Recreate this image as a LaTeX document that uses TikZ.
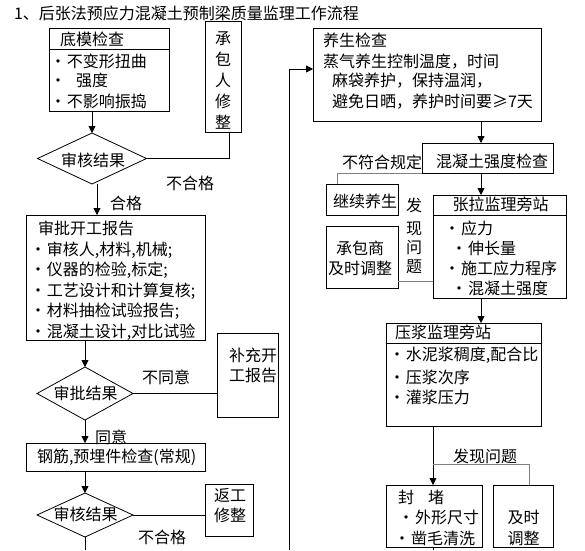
\documentclass[tikz,border=0pt]{standalone}
\usepackage{fontspec}
\setmainfont{Noto Sans CJK SC}
\usetikzlibrary{arrows.meta,shapes.geometric,calc}
\newcommand\dt{\makebox[11pt][l]{\makebox[4pt][c]{·}}}
\begin{document}
\begin{tikzpicture}[x=1pt,y=-1pt,
  every node/.style={inner sep=0pt,outer sep=0pt},
  txt/.style={font=\fontsize{16}{20}\selectfont, anchor=west},
  ctxt/.style={font=\fontsize{16}{20}\selectfont, anchor=center, align=center},
  box/.style={draw, line width=0.8pt, anchor=north west, rectangle},
  dia/.style={draw, line width=0.8pt, diamond},
  ln/.style={line width=0.8pt},
  gln/.style={line width=0.8pt, draw=gray},
  arr/.style={line width=0.8pt, -{Triangle[width=7pt,length=7pt]}},
]
\useasboundingbox (0,0) rectangle (585,550);
\fill[white] (0,0) rectangle (585,550);

% title
\node[txt] (title) at (14,13) {1、后张法预应力混凝土预制梁质量监理工作流程};

% ---------- left column ----------
\node[box, minimum width=120pt, minimum height=83pt] (dimo) at (49,28) {};
\draw[ln] (dimo.west |- 0,49) -- (dimo.east |- 0,49);
\node[txt] (t1) at (60,39) {底模检查};
\node[txt] (t2) at (56,61) {\dt 不变形扭曲};
\node[txt] (t3) at (56,80) {\dt\hspace{9pt}强度};
\node[txt] (t4) at (56,101) {\dt 不影响振捣};

\node[box, minimum width=36pt, minimum height=111pt] (cbr) at (205,21) {};
\node[ctxt, font=\fontsize{16}{21}\selectfont] (t5) at (223,80.5) {承\\包\\人\\修\\整};

\node[dia, minimum width=109pt, minimum height=51pt] (d1) at (92,158.5) {};
\node[ctxt] (t6) at (93,160) {审核结果};
\node[txt] (t7) at (166,183) {不合格};
\node[txt] (t8) at (110,203) {合格};

\node[box, minimum width=179pt, minimum height=125pt] (approve) at (26,215) {};
\node[txt] (a0) at (38,228) {审批开工报告};
\node[txt] (a1) at (36,250) {\dt 审核人,材料,机械;};
\node[txt] (a2) at (36,270.5) {\dt 仪器的检验,标定;};
\node[txt] (a3) at (36,291) {\dt 工艺设计和计算复核;};
\node[txt] (a4) at (36,311.5) {\dt 材料抽检试验报告;};
\node[txt] (a5) at (36,332) {\dt 混凝土设计,对比试验};

\node[dia, minimum width=96pt, minimum height=53pt] (d2) at (85,393.5) {};
\node[ctxt] (t9) at (85.5,393) {审批结果};
\node[txt] (t10) at (142,377) {不同意};

\node[box, minimum width=61pt, minimum height=84pt] (bc) at (217,333) {};
\node[txt, align=left] (t11) at (229,365) {补充开\\工报告};

\node[txt] (t12) at (95,437) {同意};
\node[box, minimum width=179pt, minimum height=28pt] (gj) at (26,443) {};
\node[txt] (t13) at (37,457) {钢筋,预埋件检查(常规)};

\node[dia, minimum width=96pt, minimum height=44pt] (d3) at (85,515) {};
\node[ctxt] (t14) at (85.5,514) {审核结果};
\node[txt] (t15) at (138,537) {不合格};

\node[box, minimum width=48pt, minimum height=52pt] (fg) at (205,484) {};
\node[ctxt] (t16) at (230,506) {返工\\修整};

% ---------- right column ----------
\node[box, minimum width=228pt, minimum height=93pt] (ys) at (313,28) {};
\node[txt] (y1) at (323,40) {养生检查};
\node[txt] (y2) at (323,62) {蒸气养生控制温度，时间};
\node[txt] (y3) at (332,81) {麻袋养护，保持温润，};
\node[txt] (y4) at (332,102) {避免日晒，养护时间要≥7天};

\node[box, minimum width=131pt, minimum height=30pt] (qd) at (422,143) {};
\node[txt] (q1) at (436,161) {混凝土强度检查};
\node[txt] (q2) at (342,162) {不符合规定};

\node[box, minimum width=72pt, minimum height=31pt] (jx) at (326,184) {};
\node[txt] (j1) at (333,201) {继续养生};

\node[box, minimum width=72pt, minimum height=62pt] (cbs) at (326,226) {};
\node[ctxt] (c1) at (360,258) {承包商\\及时调整};

\node[ctxt] (f1) at (414,205) {发};
\node[ctxt] (f2) at (414,229) {现};
\node[ctxt] (f3) at (414,248) {问};
\node[ctxt] (f4) at (414,267) {题};

\node[box, minimum width=133pt, minimum height=103pt] (zl) at (433,195) {};
\draw[ln] (zl.west |- 0,215) -- (zl.east |- 0,215);
\node[ctxt] (z0) at (500.5,204) {张拉监理旁站};
\node[txt] (z1) at (450,228) {\dt 应力};
\node[txt] (z2) at (457,248) {\dt 伸长量};
\node[txt] (z3) at (450,268) {\dt 施工应力程序};
\node[txt] (z4) at (457,288) {\dt 混凝土强度};

\node[box, minimum width=155pt, minimum height=103pt] (yj) at (386,323) {};
\draw[ln] (yj.west |- 0,343) -- (yj.east |- 0,343);
\node[txt] (p0) at (395,332) {压浆监理旁站};
\node[txt] (p1) at (395,355) {\dt 水泥浆稠度,配合比};
\node[txt] (p2) at (395,377) {\dt 压浆次序};
\node[txt] (p3) at (395,397) {\dt 灌浆压力};

\node[txt] (g1) at (453,456) {发现问题};

\node[box, minimum width=96pt, minimum height=62pt] (fd) at (386,485) {};
\node[txt] (s1) at (398,497) {封\hspace{14pt}堵};
\node[txt] (s2) at (404,517) {\dt 外形尺寸};
\node[txt] (s3) at (400,538) {\dt 凿毛清洗};

\node[box, minimum width=60pt, minimum height=62pt] (js) at (493,485) {};
\node[ctxt, font=\fontsize{16}{21}\selectfont] (k1) at (523.5,527.5) {及时\\调整};

% ---------- connectors ----------
\draw[arr] (d1.north |- dimo.south) -- (d1.north);
\draw[ln] (d1.east) -| ($(cbr.south)+(6,0)$);
\draw[arr] ($(d1.south)+(5,0)$) -- ($(d1.south |- approve.north)+(5,0)$);
\draw[arr] (d2.north |- approve.south) -- (d2.north);
\draw[ln] (d2.east) -- (d2.east -| bc.west);
\draw[arr] (d2.south) -- (d2.south |- gj.north);
\draw[arr] (d3.north |- gj.south) -- (d3.north);
\draw[ln] (d3.east) -- (d3.east -| fg.west);
\coordinate (lend) at (85,550);
\draw[ln] (d3.south) -- (lend);

\coordinate (lb) at (289,550);
\draw[arr] (lb) |- ($(ys.north west)+(0,41)$);

\draw[arr] (ys.south -| 481,0) -- (qd.north -| 481,0);
\draw[gln] (qd.south west) -| (jx.north -| 337,0);
\draw[arr] (qd.south -| 481,0) -- (zl.north -| 481,0);
\draw[gln] (cbs.east |- 0,281) -- (zl.west |- 0,281);
\draw[arr] (zl.south -| 481,0) -- (yj.north -| 481,0);
\coordinate (rend) at (433,550);
\draw[arr] (yj.south -| rend) -- (fd.north -| rend);
\coordinate (br) at (433,464);
\draw[gln] (br) -| (js.north -| 529,0);
\draw[ln] (fd.south -| rend) -- (rend);
\end{tikzpicture}
\end{document}
